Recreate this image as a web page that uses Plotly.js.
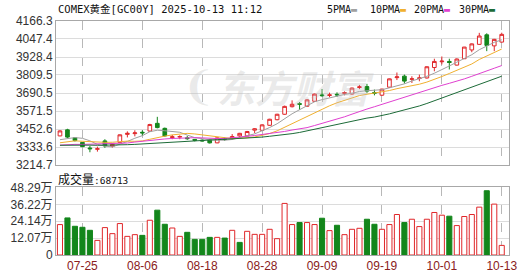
<!DOCTYPE html>
<html>
<head>
<meta charset="utf-8">
<script src="https://cdn.plot.ly/plotly-3.0.1.min.js"></script>
<style>
  html, body { margin: 0; padding: 0; background: #fff; }
  #chart { width: 530px; height: 276px; }
</style>
</head>
<body>
<div id="chart"></div>
<script>
// ---- data ----
const dates = ["07-22","07-23","07-24","07-25","07-28","07-29","07-30","07-31","08-01","08-04",
  "08-05","08-06","08-07","08-08","08-11","08-12","08-13","08-14","08-15","08-18",
  "08-19","08-20","08-21","08-22","08-25","08-26","08-27","08-28","08-29","09-01",
  "09-02","09-03","09-04","09-05","09-08","09-09","09-10","09-11","09-12","09-15",
  "09-16","09-17","09-18","09-19","09-22","09-23","09-24","09-25","09-26","09-29",
  "09-30","10-01","10-02","10-03","10-06","10-07","10-08","10-09","10-10","10-13"];

const openP  = [3407,3447,3394,3364,3327,3319,3374,3338,3364,3417,
  3422,3431,3439,3490,3457,3396,3399,3394,3384,3379,
  3381,3361,3389,3391,3407,3407,3445,3444,3477,3514,
  3550,3600,3620,3603,3636,3678,3674,3682,3688,3684,
  3727,3733,3693,3676,3729,3792,3802,3781,3786,3790,
  3859,3897,3899,3875,3917,3975,4012,4075,4002,4027];
const highP  = [3445,3454,3399,3366,3341,3336,3385,3358,3417,3437,
  3444,3444,3487,3533,3462,3414,3411,3407,3387,3384,
  3387,3397,3397,3419,3427,3440,3458,3484,3520,3553,
  3607,3642,3631,3650,3686,3717,3693,3695,3701,3726,
  3744,3751,3713,3719,3786,3826,3812,3801,3812,3867,
  3917,3932,3917,3919,3995,4018,4088,4085,4048,4089];
const lowP   = [3405,3392,3370,3332,3299,3303,3328,3330,3361,3397,
  3404,3407,3434,3457,3403,3385,3385,3381,3371,3370,
  3357,3359,3374,3381,3400,3404,3425,3440,3474,3510,
  3547,3595,3580,3600,3633,3666,3663,3664,3675,3680,
  3716,3691,3675,3671,3726,3776,3753,3757,3768,3786,
  3834,3879,3846,3872,3915,3960,4008,3967,3967,4025];
const closeP = [3440,3399,3376,3336,3322,3322,3341,3351,3414,3424,
  3427,3427,3482,3462,3407,3401,3403,3389,3378,3374,
  3361,3394,3385,3403,3424,3436,3454,3480,3517,3550,
  3602,3616,3616,3645,3683,3673,3678,3678,3693,3723,
  3731,3703,3689,3716,3784,3797,3769,3784,3790,3864,
  3899,3901,3892,3915,3994,4015,4067,4005,4045,4078];

const ma5  = [3382,3390,3396,3391,3374.6,3351,3339.4,3334.4,3350,3370.4,
  3391.4,3408.6,3434.8,3444.4,3441,3435.8,3431,3412.4,3395.6,3389,
  3381,3379.2,3378.4,3383.4,3393.4,3408.4,3420.4,3439.4,3462.2,3487.4,
  3520.6,3553,3580.2,3605.8,3632.4,3646.6,3659,3671.4,3681,3689,
  3700.6,3705.6,3707.8,3712.4,3724.6,3737.8,3751,3770,3784.8,3800.8,
  3821.2,3847.6,3869.2,3894.2,3920.2,3943.4,3976.6,3999.2,4025.2,4042];
const ma10 = [3361.6,3369.3,3374.4,3371.5,3367.8,3366.4,3364.6,3365.1,3370.7,3372.5,
  3371.2,3374,3384.6,3397.2,3405.7,3413.6,3419.8,3423.6,3420,3415,
  3408.4,3405.1,3395.4,3389.5,3391.2,3394.7,3399.8,3408.9,3422.8,3440.4,
  3464.5,3486.7,3509.8,3534,3559.9,3583.6,3606,3625.8,3643.4,3660.7,
  3673.6,3682.3,3689.6,3696.7,3706.8,3719.2,3728.3,3738.9,3748.6,3762.7,
  3779.5,3799.3,3819.6,3839.5,3860.5,3882.3,3912.1,3934.2,3959.7,3981.1];
const ma20 = [3346.1,3349.4,3351,3350.7,3352.4,3353.2,3352.8,3352.5,3356.1,3360.2,
  3366.4,3371.7,3379.5,3384.4,3386.8,3390,3392.2,3394.4,3395.4,3393.8,
  3389.8,3389.6,3390,3393.4,3398.5,3404.2,3409.8,3416.3,3421.4,3427.7,
  3436.5,3445.9,3452.6,3461.8,3475.6,3489.2,3502.9,3517.4,3533.1,3550.6,
  3569.1,3584.5,3599.7,3615.4,3633.4,3651.4,3667.2,3682.4,3696,3711.7,
  3726.6,3740.8,3754.6,3768.1,3783.7,3800.8,3820.2,3836.6,3854.2,3871.9];
const ma30 = [3345,3346,3347,3347,3346,3345,3345,3346,3347,3349,
  3351,3354,3358,3362,3366,3369,3371,3373,3375,3377,
  3379.5,3382,3384.5,3386.1,3388.2,3391.6,3394.7,3399.2,3404.5,3409.3,
  3414.7,3421.9,3429.9,3440.2,3452.3,3464,3475.2,3486.1,3495.4,3505.4,
  3515.5,3524.7,3531.6,3540.1,3552.6,3565.8,3578,3591.2,3604.9,3621.3,
  3639.2,3656.1,3673,3690.1,3709.1,3728.4,3748.8,3766.3,3783.9,3801.5];

const volume = [217600,265200,205400,198200,176600,104500,196000,152800,224900,133300,
  145600,140500,248600,320700,219800,193100,133300,162200,111700,111700,
  126100,126100,121100,176600,90100,169400,147700,147700,183800,116800,
  369000,217700,232100,232100,217700,263100,174400,212600,145600,183800,
  191000,255800,219800,183800,217700,289700,232100,255800,203200,255800,
  304100,284700,277500,210400,275300,289700,342300,459800,364000,68713];
// direction of each volume bar as coloured in the picture (1 = rising/red, 0 = falling/green)
const volumeUp = [1,0,0,0,0,1,1,1,1,1,
  1,0,1,0,0,1,1,0,0,0,
  0,1,0,1,0,1,1,1,1,1,
  1,1,0,1,1,0,1,0,1,1,
  1,0,0,1,1,1,0,1,1,1,
  1,1,0,1,1,1,1,0,1,1];

const priceTicks = [3214.7,3333.6,3452.6,3571.5,3690.5,3809.5,3928.4,4047.4,4166.3];
const volTicks = [0,120700,241400,362200,482900];
const volTickText = ["0","12.07万","24.14万","36.22万","48.29万"];
const dateTicks = ["07-25","08-06","08-18","08-28","09-09","09-19","10-01","10-13"];
const titleText = "COMEX黄金[GC00Y] 2025-10-13 11:12";
const lastVolume = 68713;

// ---- styling ----
const RED = "#e0272a", GREEN = "#13861b";
const MA_COLORS = ["#a0a0a0", "#f0b030", "#e040d0", "#1c6b38"];
const TICKFONT = {family: "Liberation Sans, Arial, Noto Sans CJK SC, sans-serif", size: 12, color: "#333"};
const MONO = "DejaVu Sans Mono, Liberation Mono, Noto Sans CJK SC, monospace";

const traces = [
  {
    type: "candlestick", x: dates, open: openP, high: highP, low: lowP, close: closeP,
    xaxis: "x", yaxis: "y",
    increasing: {line: {color: RED, width: 1}, fillcolor: "#ffffff"},
    decreasing: {line: {color: GREEN, width: 1}, fillcolor: GREEN},
    hoverinfo: "skip", showlegend: false
  },
  ...[ma5, ma10, ma20, ma30].map((m, k) => ({
    type: "scatter", mode: "lines", x: dates, y: m, xaxis: "x", yaxis: "y",
    line: {color: MA_COLORS[k], width: 1}, hoverinfo: "skip", showlegend: false
  })),
  {
    type: "bar", x: dates, y: volume, xaxis: "x2", yaxis: "y2",
    marker: {
      color: volumeUp.map(u => u ? "#ffffff" : GREEN),
      line: {color: volumeUp.map(u => u ? RED : GREEN), width: 1}
    },
    hoverinfo: "skip", showlegend: false
  }
];

const xCommon = {
  type: "category", range: [-0.53, 59.97], tickvals: dateTicks,
  showgrid: true, gridcolor: "#b8b8b8", griddash: "dash", gridwidth: 1,
  showline: true, mirror: true, linecolor: "#a8a8a8", linewidth: 1,
  ticks: "", zeroline: false, fixedrange: true
};

const legendItems = ["5PMA", "10PMA", "20PMA", "30PMA"];
const legendX = [325, 368, 412, 457];

const annotations = [
  {xref: "paper", yref: "paper", x: 0, y: 1, yshift: 12, xanchor: "left", yanchor: "middle",
   text: titleText, showarrow: false, font: {family: MONO, size: 10.5, color: "#111"}},
  {xref: "paper", yref: "paper", x: 0, y: 0.2885, yshift: 9, xanchor: "left", yanchor: "middle",
   text: "成交量<span style='font-family:" + MONO + ";font-size:9.5px'>:" + lastVolume + "</span>",
   showarrow: false, font: {family: "Noto Sans CJK SC, sans-serif", size: 12, color: "#111"}},
  {xref: "x", yref: "y", x: 31.5, y: 3735, xanchor: "center", yanchor: "middle",
   text: "<b><i>东方财富</i></b>", showarrow: false,
   font: {family: "Noto Sans CJK SC, sans-serif", size: 38, color: "rgba(190,190,190,0.32)"}},
  {xref: "x", yref: "y", x: 18.6, y: 3735, xanchor: "center", yanchor: "middle",
   text: "<b>❨</b>", showarrow: false,
   font: {family: "DejaVu Sans, sans-serif", size: 40, color: "rgba(190,190,190,0.32)"}}
];
legendItems.forEach((name, k) => {
  annotations.push({
    xref: "paper", yref: "paper", x: (legendX[k] - 56) / 453, y: 1, yshift: 12,
    xanchor: "left", yanchor: "middle", showarrow: false,
    text: name + "<span style='color:" + MA_COLORS[k] + "'>▬</span>",
    font: {family: MONO, size: 10, color: "#111"}
  });
});

const layout = {
  width: 530, height: 276,
  margin: {l: 56, r: 21, t: 21, b: 21, pad: 0},
  paper_bgcolor: "#ffffff", plot_bgcolor: "#ffffff",
  showlegend: false, bargap: 0.32, hovermode: false,
  xaxis: Object.assign({}, xCommon, {anchor: "y", showticklabels: false, rangeslider: {visible: false}}),
  xaxis2: Object.assign({}, xCommon, {anchor: "y2", showticklabels: true,
    tickfont: {family: "Liberation Sans, Arial, sans-serif", size: 12, color: "#8a2020"}}),
  yaxis: {
    domain: [0.3846, 1], range: [3214.7, 4166.3], tickvals: priceTicks,
    ticktext: priceTicks.map(v => v.toFixed(1)), tickfont: TICKFONT,
    showgrid: true, gridcolor: "#dcdcdc", showline: true, mirror: true, linecolor: "#a8a8a8",
    ticks: "", zeroline: false, fixedrange: true
  },
  yaxis2: {
    domain: [0, 0.2885], range: [0, 482900], tickvals: volTicks, ticktext: volTickText,
    tickfont: TICKFONT, showgrid: true, gridcolor: "#dcdcdc", showline: true, mirror: true,
    linecolor: "#a8a8a8", ticks: "", zeroline: false, fixedrange: true
  },
  annotations: annotations
};

Plotly.newPlot("chart", traces, layout, {staticPlot: true, displayModeBar: false});
</script>
</body>
</html>
